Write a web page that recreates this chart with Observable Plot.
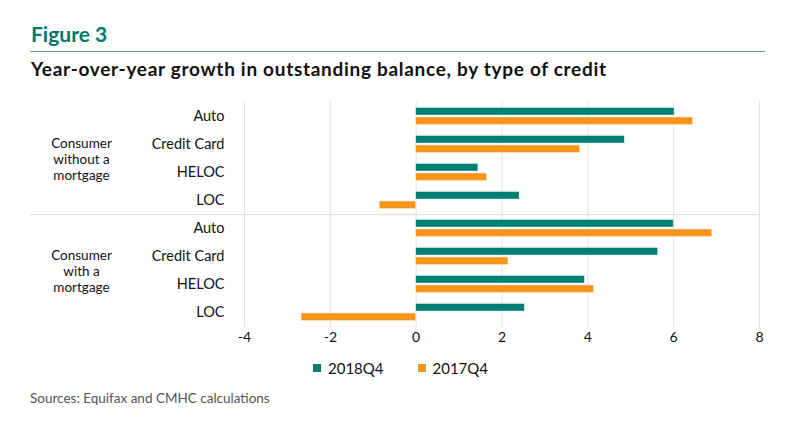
<!DOCTYPE html>
<html><head><meta charset="utf-8">
<script src="https://cdn.jsdelivr.net/npm/d3@7"></script>
<script src="https://cdn.jsdelivr.net/npm/@observablehq/plot@0.6"></script>
<style>
body{margin:0;background:#fff;font-family:Lato,"Open Sans",sans-serif;}
#wrap{position:relative;width:800px;height:443px;overflow:hidden;}
#fig{position:absolute;left:31px;top:22px;font-size:21px;font-weight:700;color:#00796b;line-height:24px;}
#rule{position:absolute;left:30px;top:51px;width:735px;border-top:1px solid #5b9e95;}
#sub{position:absolute;left:31px;top:58px;font-size:19px;font-weight:700;color:#111;line-height:22px;letter-spacing:0.7px;}
#chart{position:absolute;left:0;top:95px;}
#legend{position:absolute;left:313px;top:358px;font-size:15px;color:#111;display:flex;align-items:center;line-height:20px;}
#legend .sw{display:inline-block;width:8px;height:8px;margin-right:7px;}
#legend .it{display:flex;align-items:center;margin-right:34px;}
#src{position:absolute;left:30px;top:389px;font-size:13.5px;color:#555;line-height:18px;}
</style></head>
<body>
<div id="wrap">
  <div id="fig">Figure 3</div>
  <div id="rule"></div>
  <div id="sub">Year-over-year growth in outstanding balance, by type of credit</div>
  <div id="chart"></div>
  <div id="legend"></div>
  <div id="src">Sources: Equifax and CMHC calculations</div>
</div>
<script>
const types = ["Auto", "Credit Card", "HELOC", "LOC"];
const groups = ["Consumer\nwithout a\nmortgage", "Consumer\nwith a\nmortgage"];
const seriesNames = ["2018Q4", "2017Q4"];
const seriesColors = ["#007f72", "#f7941d"];
const q2018Without = [6.02, 4.86, 1.45, 2.41];
const q2017Without = [6.45, 3.82, 1.65, -0.85];
const q2018With = [6.0, 5.64, 3.93, 2.53];
const q2017With = [6.9, 2.15, 4.14, -2.67];
const xTicks = [-4, -2, 0, 2, 4, 6, 8];

const valuesByGroup = [[q2018Without, q2017Without], [q2018With, q2017With]];
const keys = [];
const rows = [];
groups.forEach((g, gi) => {
  types.forEach((t, ti) => {
    const key = gi + "|" + t;
    keys.push(key);
    seriesNames.forEach((s, si) => {
      rows.push({key, group: g, type: t, series: s, value: valuesByGroup[gi][si][ti]});
    });
  });
});
const groupLabels = groups.map((g, gi) => ({key: gi + "|" + types[1], label: g}));

const half = 226.4 / 8 / 2;

const chart = Plot.plot({
  width: 800,
  height: 250,
  marginLeft: 244,
  marginRight: 41,
  marginTop: 6,
  marginBottom: 17.6,
  style: {fontFamily: "Lato, 'Open Sans', sans-serif", fontSize: "14px", color: "#111", background: "transparent"},
  x: {domain: [-4, 8], label: null},
  y: {domain: keys, padding: 0, label: null},
  marks: [
    Plot.gridX(xTicks, {stroke: "#e2e2e2", strokeOpacity: 1}),
    Plot.ruleY([keys[3]], {dy: half, insetLeft: -214, insetRight: -1, stroke: "#e2e2e2", strokeWidth: 1.2}),
    Plot.barX(rows.filter(d => d.series === seriesNames[0]), {x: "value", y: "key", fill: seriesColors[0], stroke: "#dff0ee", strokeWidth: 0.5, insetTop: 5.5, insetBottom: 15}),
    Plot.barX(rows.filter(d => d.series === seriesNames[1]), {x: "value", y: "key", fill: seriesColors[1], stroke: "#fde9d2", strokeWidth: 0.5, insetTop: 15, insetBottom: 5.5}),
    Plot.axisX(xTicks, {tickSize: 0, tickPadding: 4, tickFormat: d => String(d), fontSize: 14, label: null}),
    Plot.axisY({tickSize: 0, tickPadding: 20, tickFormat: k => k.split("|")[1], fontSize: 14.5, label: null}),
    Plot.text(groupLabels, {y: "key", text: "label", frameAnchor: "left", dx: -163, dy: half, textAnchor: "middle", lineHeight: 1.2, fontSize: 13.5, fill: "#111"})
  ]
});
document.getElementById("chart").appendChild(chart);

const legend = document.getElementById("legend");
seriesNames.forEach((s, i) => {
  const it = document.createElement("div");
  it.className = "it";
  const sw = document.createElement("span");
  sw.className = "sw";
  sw.style.background = seriesColors[i];
  it.appendChild(sw);
  it.appendChild(document.createTextNode(s));
  legend.appendChild(it);
});
</script>
</body></html>
